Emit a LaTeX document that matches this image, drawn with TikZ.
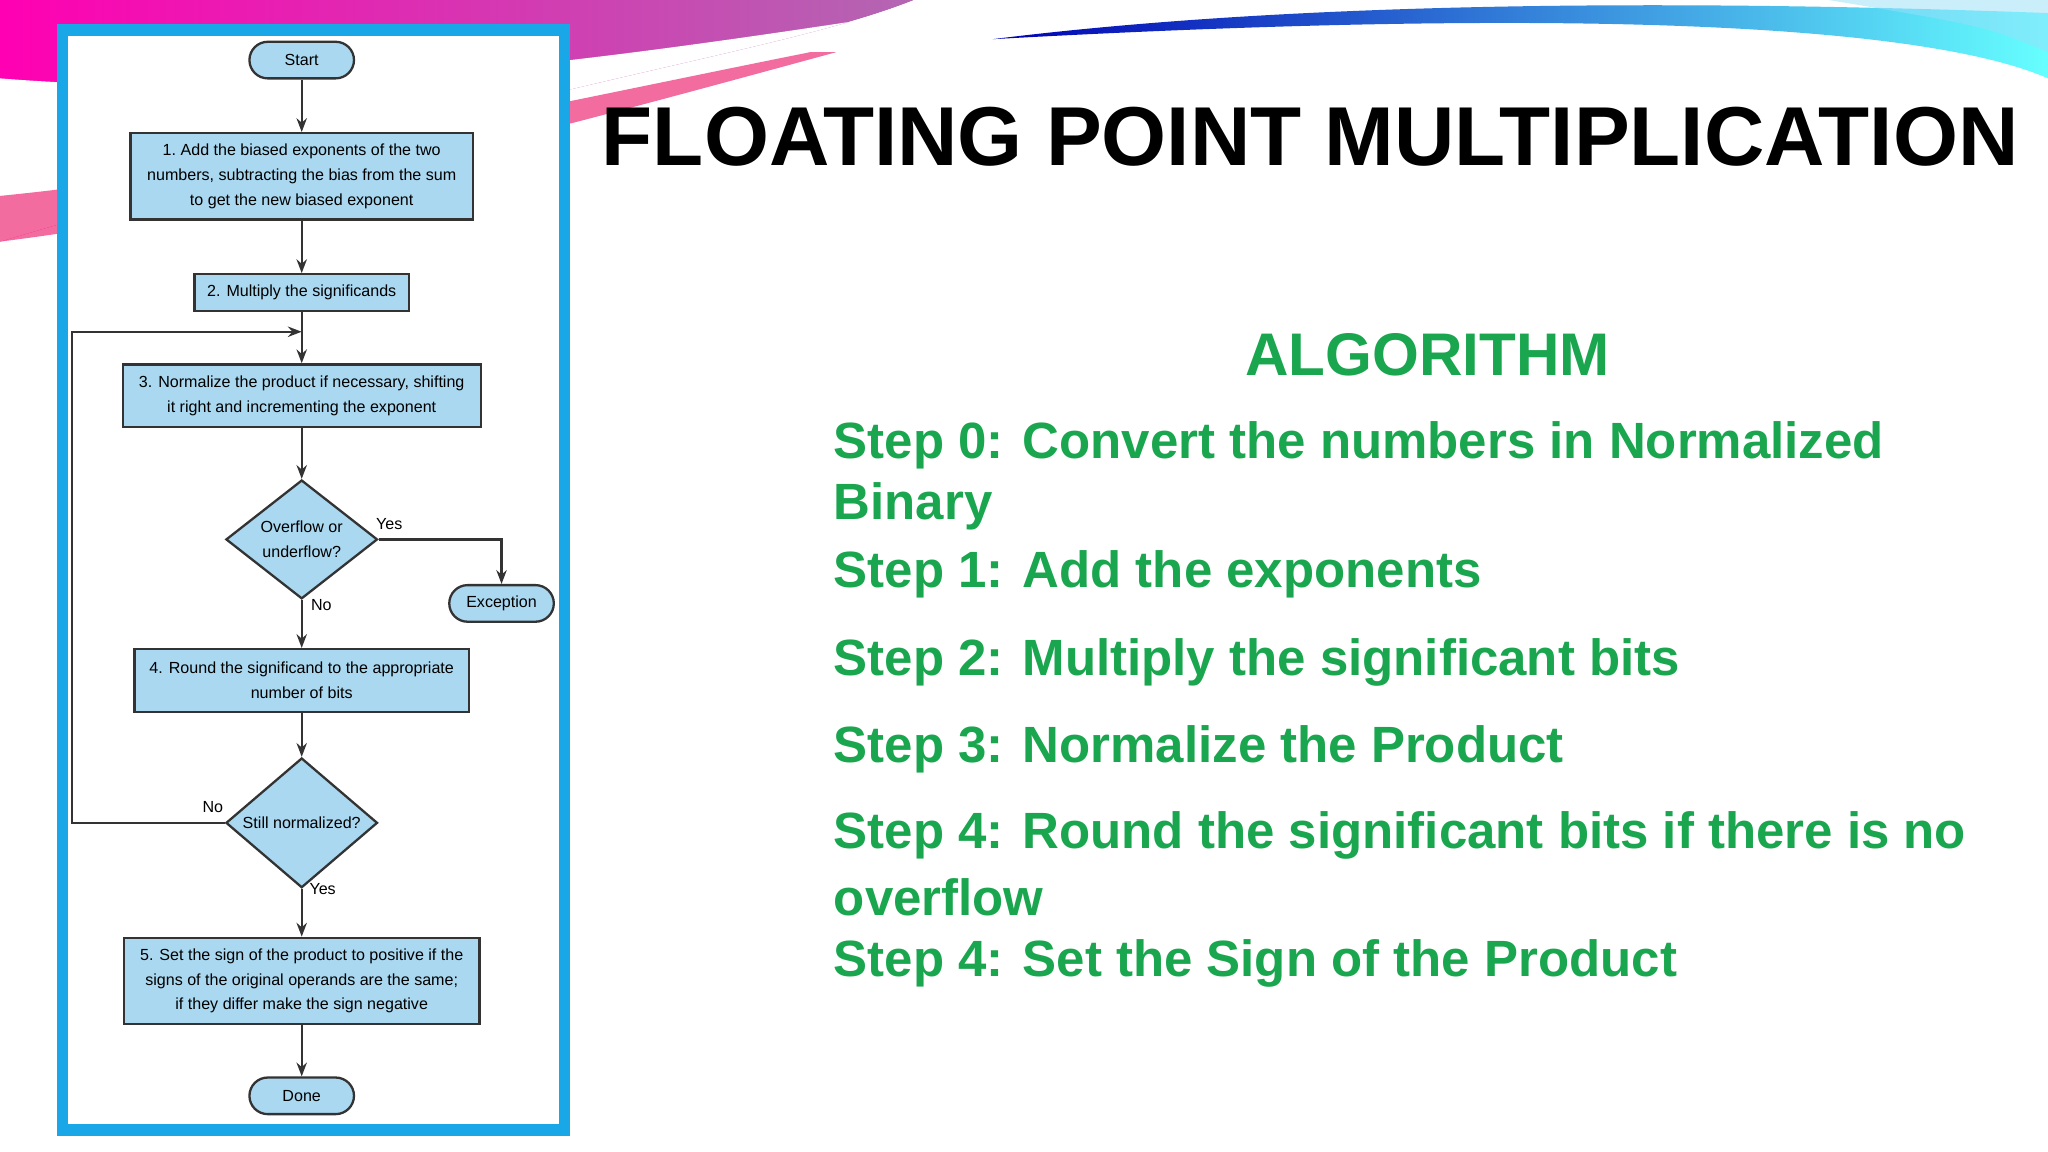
\documentclass[tikz,border=0pt]{standalone}
\usepackage{fontspec}
\setmainfont{Liberation Sans}
\usetikzlibrary{shapes.geometric,arrows.meta}
\definecolor{panelblue}{HTML}{1AA7E8}
\definecolor{boxblue}{HTML}{A9D8F0}
\definecolor{stepgreen}{HTML}{1AA64E}
\tikzset{
  flowbox/.style={draw=black!80, fill=boxblue, line width=0.5pt, align=center, inner sep=1pt,
    font=\fontsize{3.5}{5.4}\selectfont},
  pill/.style={flowbox, rounded corners=0.14cm, minimum width=0.8cm, minimum height=0.28cm},
  decide/.style={flowbox, diamond, minimum width=1.16cm, minimum height=0.84cm, inner sep=0pt},
  flow/.style={draw=black!80, line width=0.5pt, -{Stealth[length=3pt]}},
  tag/.style={font=\fontsize{3.5}{5}\selectfont},
  stepline/.style={anchor=west, text=stepgreen, font=\fontsize{11.1}{13}\selectfont\bfseries}
}
\begin{document}
\begin{tikzpicture}[x=0.01cm, y=-0.01cm]
  \useasboundingbox (0,0) rectangle (1568,882);
  \fill[white] (0,0) rectangle (1568,882);

  % decorative swooshes
  \shade[left color=magenta!70!red, right color=violet!60] (0,0) -- (700,0) .. controls (600,40) and (420,60) .. (0,185) -- cycle;
  \fill[white] (0,60) .. controls (250,80) and (500,40) .. (760,0) -- (700,0) .. controls (600,40) and (420,60) .. (0,185) -- cycle;
  \fill[magenta!60!red, opacity=0.6] (0,150) .. controls (200,130) and (420,80) .. (620,40) -- (640,40) .. controls (420,100) and (200,160) .. (0,185) -- cycle;
  \shade[left color=blue!70!black, right color=cyan!60] (760,30) .. controls (1000,0) and (1300,0) .. (1568,10) -- (1568,60) .. controls (1500,30) and (1300,0) .. (760,30) -- cycle;
  \fill[cyan!40, opacity=0.5] (1400,0) -- (1568,0) -- (1568,40) .. controls (1520,20) .. (1400,0) -- cycle;

  % flowchart panel
  \draw[panelblue, line width=2.5pt, fill=white] (48,23) rectangle (432,865);

  \node[pill] (start) at (231,46) {Start};
  \node[flowbox, minimum width=2.62cm, minimum height=0.66cm] (add) at (231,135)
    {1.\ Add the biased exponents of the two\\numbers, subtracting the bias from the sum\\to get the new biased exponent};
  \node[flowbox, minimum width=1.64cm, minimum height=0.28cm] (mult) at (231,224) {2. Multiply the significands};
  \node[flowbox, minimum width=2.74cm, minimum height=0.48cm] (norm) at (231,303)
    {3. Normalize the product if necessary, shifting\\it right and incrementing the exponent};
  \node[decide] (ovf) at (231,413) {Overflow or\\underflow?};
  \node[pill] (exc) at (384,462) {Exception};
  \node[flowbox, minimum width=2.56cm, minimum height=0.48cm] (round) at (231,521)
    {4. Round the significand to the appropriate\\number of bits};
  \node[decide] (still) at (231,630) {Still normalized?};
  \node[flowbox, minimum width=2.72cm, minimum height=0.66cm] (sign) at (231,751)
    {5. Set the sign of the product to positive if the\\signs of the original operands are the same;\\if they differ make the sign negative};
  \node[pill] (done) at (231,839) {Done};
  \coordinate (back) at (231,254);

  \draw[flow] (start) -- (add);
  \draw[flow] (add) -- (mult);
  \draw[flow] (mult) -- (norm);
  \draw[flow] (norm) -- (ovf);
  \draw[flow] (ovf.east) -| (exc.north);
  \draw[flow] (ovf) -- (round);
  \draw[flow] (round) -- (still);
  \draw[flow] (still.west) -- (55,630) |- (back);
  \draw[flow] (still) -- (sign);
  \draw[flow] (sign) -- (done);
  \node[tag] at (298,401) {Yes};
  \node[tag] at (246,463) {No};
  \node[tag] at (163,618) {No};
  \node[tag] at (247,681) {Yes};

  % text
  \node[font=\fontsize{18.2}{22}\selectfont\bfseries] (title) at (1003,105) {FLOATING POINT MULTIPLICATION};
  \node[text=stepgreen, font=\fontsize{13.1}{16}\selectfont\bfseries] (algo) at (1093,272) {ALGORITHM};
  \node[stepline] (s0) at (626,341) {Step 0: Convert the numbers in Normalized};
  \node[stepline] (s0b) at (626,388) {Binary};
  \node[stepline] (s1) at (626,440) {Step 1: Add the exponents};
  \node[stepline] (s2) at (626,507) {Step 2: Multiply the significant bits};
  \node[stepline] (s3) at (626,574) {Step 3: Normalize the Product};
  \node[stepline] (s4) at (626,640) {Step 4: Round the significant bits if there is no};
  \node[stepline] (s4b) at (626,687) {overflow};
  \node[stepline] (s5) at (626,738) {Step 4: Set the Sign of the Product};
\end{tikzpicture}
\end{document}
